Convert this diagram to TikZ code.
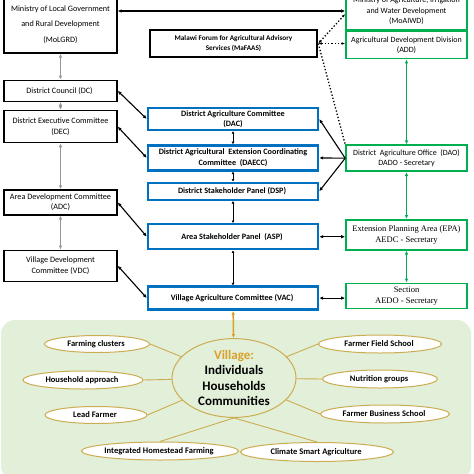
\documentclass[tikz,border=0pt]{standalone}
\usepackage{fontspec}
\setmainfont{Carlito}
\newfontfamily\timesfont{Liberation Serif}
\usepackage{tikz}
\usetikzlibrary{positioning,shapes.geometric,arrows.meta}

\definecolor{boxblue}{RGB}{0,112,192}
\definecolor{boxgreen}{RGB}{0,176,80}
\definecolor{villbg}{RGB}{226,239,217}
\definecolor{gold}{RGB}{204,172,80}
\definecolor{vilorange}{RGB}{218,160,40}
\definecolor{linkgrey}{RGB}{150,150,150}

\begin{document}
\begin{tikzpicture}[x = 1pt, y = -1pt,
    every node/.style = { align = center, inner sep = 0pt },
    lgov/.style = { draw, line width = 1.3pt, minimum width = 113pt, font = \fontsize{8.2}{10.5}\selectfont },
    agric/.style = { draw = boxblue, line width = 2.4pt, minimum width = 170pt, font = \bfseries\fontsize{8.2}{10.5}\selectfont },
    moa/.style = { draw = boxgreen, line width = 1.6pt, minimum width = 121pt, font = \fontsize{8}{10.5}\selectfont },
    serifmoa/.style = { moa, font = \timesfont\fontsize{8.5}{10.5}\selectfont },
    approach/.style = { draw = gold, fill = white, line width = 1pt, shape = ellipse, font = \bfseries\fontsize{8.5}{9}\selectfont },
    twoway/.style = { {Latex[length=4pt,width=3.5pt]}-{Latex[length=4pt,width=3.5pt]}, line width = 1.1pt },
    shortway/.style = { {Latex[length=2.5pt,width=3pt]}-{Latex[length=2.5pt,width=3pt]}, line width = 1pt },
    spoke/.style = { draw = gold, line width = 0.9pt }
  ]
  \useasboundingbox (0,0) rectangle (474,474);
  \fill [villbg, rounded corners = 14pt] (1,320) rectangle (471,480);

  % local government
  \node [lgov, minimum height = 57pt, font = \fontsize{8.2}{15.5}\selectfont] (molgrd) at (60.5,24.5)
    { Ministry of Local Government \\ and Rural Development \\ (MoLGRD) };
  \node [lgov, minimum height = 21pt, below = 26pt of molgrd] (dc) { District Council (DC) };
  \node [lgov, minimum height = 32pt, below = 8pt of dc] (dec) { District Executive Committee \\ (DEC) };
  \node [lgov, minimum height = 25pt, below = 46pt of dec] (adc) { Area Development Committee \\ (ADC) };
  \node [lgov, minimum height = 31pt, below = 34pt of adc] (vdc) { Village Development \\ Committee (VDC) };

  % agriculture committees
  \node [draw, line width = 2.6pt, minimum width = 167pt, minimum height = 27pt,
    font = \bfseries\fontsize{7.2}{10}\selectfont] (mafaas) at (233.5,43.5)
    { Malawi Forum for Agricultural Advisory \\ Services (MaFAAS) };
  \node [agric, minimum height = 22pt] (dac) at (233,119) { District Agriculture Committee \\ (DAC) };
  \node [agric, minimum height = 25pt, below = 13pt of dac] (daecc)
    { District Agricultural~ Extension Coordinating \\ Committee~ (DAECC) };
  \node [agric, minimum height = 17pt, below = 10pt of daecc] (dsp) { District Stakeholder Panel (DSP) };
  \node [agric, minimum height = 25pt, below = 22pt of dsp] (asp) { Area Stakeholder Panel~ (ASP) };
  \node [agric, minimum height = 23pt, below = 35pt of asp] (vac) { Village Agriculture Committee (VAC) };

  % ministry of agriculture
  \node [moa, minimum height = 38pt] (moaiwd) at (406.5,11)
    { Ministry of Agriculture, Irrigation \\ and Water Development \\ (MoAIWD) };
  \node [moa, minimum height = 27pt, below = 0pt of moaiwd] (add) { Agricultural Development Division \\ (ADD) };
  \node [moa, minimum height = 26pt, below = 85pt of add] (dao) { District~ Agriculture Office~ (DAO) \\ DADO - Secretary };
  \node [serifmoa, minimum height = 30pt, below = 47pt of dao] (epa) { Extension Planning Area (EPA) \\ AEDC - Secretary };
  \node [serifmoa, minimum height = 25pt, below = 32pt of epa] (section) { Section \\ AEDO - Secretary };

  % village
  \node [draw = gold, line width = 1pt, shape = ellipse, minimum width = 124pt, minimum height = 77pt,
    font = \bfseries\fontsize{13}{15.5}\selectfont] (village) at (234,378)
    { \textcolor{vilorange}{Village:} \\ Individuals \\ Households \\ Communities };
  \node [approach, minimum width = 105pt, minimum height = 17pt] (clusters) at (97,344) { Farming clusters };
  \node [approach, minimum width = 120pt, minimum height = 18pt] (household) at (83,380) { Household approach };
  \node [approach, minimum width = 102pt, minimum height = 17pt] (lead) at (96,415) { Lead Farmer };
  \node [approach, minimum width = 155pt, minimum height = 18pt] (homestead) at (160,451) { Integrated Homestead Farming };
  \node [approach, minimum width = 123pt, minimum height = 18pt] (ffs) at (380,344) { Farmer Field School };
  \node [approach, minimum width = 115pt, minimum height = 18pt] (nutrition) at (380,379) { Nutrition groups };
  \node [approach, minimum width = 129pt, minimum height = 18pt] (fbs) at (385,414) { Farmer Business School };
  \node [approach, minimum width = 153pt, minimum height = 19pt] (csa) at (317,452) { Climate Smart Agriculture };

  % connectors
  \draw [twoway] (moaiwd.west -| molgrd.east) -- (moaiwd.west);
  \foreach \a/\b in {molgrd/dc, dc/dec, dec/adc, adc/vdc}
    \draw [twoway, linkgrey] (\a) -- (\b);
  \foreach \a/\b in {dc/dac, dec/daecc, adc/asp, vdc/vac}
    \draw [twoway] (\a.east) -- (\b.west);
  \foreach \a/\b in {dac/daecc, daecc/dsp, dsp/asp, asp/vac}
    \draw [shortway] (\a) -- (\b);
  \foreach \b in {dac, daecc, dsp}
    \draw [-{Latex[length=4pt,width=3.5pt]}, line width = 1.1pt] (dao.west) -- (\b.east);
  \draw [twoway] (asp.east) -- (asp.east -| epa.west);
  \draw [twoway] (vac.east) -- (vac.east -| section.west);
  \foreach \a/\b in {dao/add, dao/epa, epa/section}
    \draw [twoway, boxgreen, line width = 1.3pt] (\a) -- (\b);
  \draw [dotted, line width = 1.3pt, {Latex[length=3.5pt]}-{Latex[length=3.5pt]}] (mafaas.east) -- ([yshift=-3pt]moaiwd.west);
  \draw [dotted, line width = 1.3pt, {Latex[length=3.5pt]}-{Latex[length=3.5pt]}] (mafaas.east) -- (mafaas.east -| add.west);
  \draw [dotted, line width = 1.3pt] (mafaas.east) -- (dao.north west);
  \draw [twoway, vilorange, line width = 1.5pt] (vac) -- (village);

  \draw [spoke] (village) -- (clusters.east);
  \draw [spoke] (village) -- (household.east);
  \draw [spoke] (village) -- (lead.east);
  \draw [spoke] (village.south) -- (homestead.north);
  \draw [spoke] (village) -- (ffs.west);
  \draw [spoke] (village) -- (nutrition.west);
  \draw [spoke] (village) -- (fbs.west);
  \draw [spoke] (village.south) -- (csa.north);
\end{tikzpicture}
\end{document}
